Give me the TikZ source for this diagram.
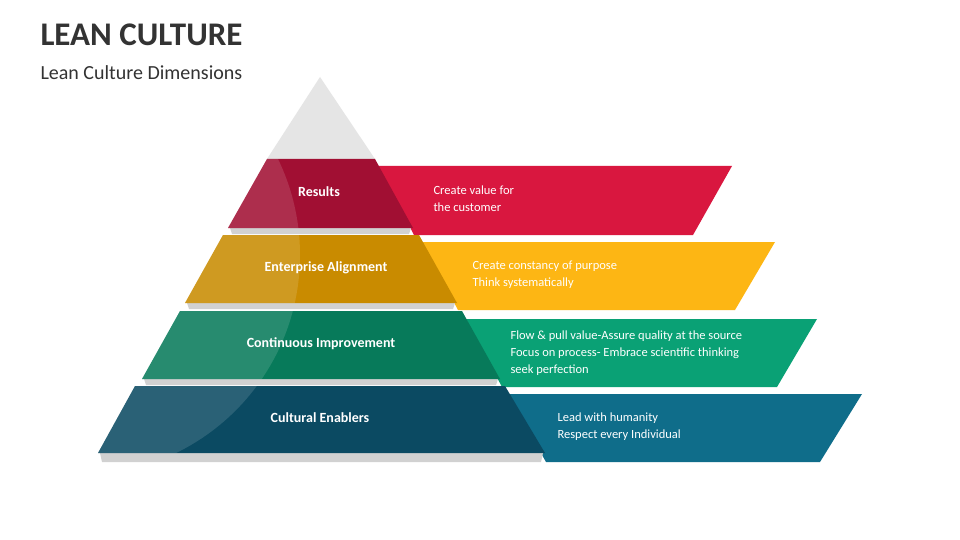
\documentclass[tikz,border=0pt]{standalone}
\usepackage{fontspec}
\setmainfont{Carlito}
\begin{document}
\begin{tikzpicture}[x=1pt,y=-1pt,
  band/.style={draw=none},
  lbl/.style={text=white,font=\fontsize{14}{16}\selectfont\bfseries},
  desc/.style={text=white,font=\fontsize{12.5}{17}\selectfont,align=left,anchor=west},
  shadowstrip/.style={fill=black!18}]
\definecolor{rA}{HTML}{A10F33}\definecolor{rB}{HTML}{D9173F}
\definecolor{yA}{HTML}{C98B00}\definecolor{yB}{HTML}{FDB614}
\definecolor{gA}{HTML}{077A5A}\definecolor{gB}{HTML}{0AA175}
\definecolor{bA}{HTML}{0B4A62}\definecolor{bB}{HTML}{0F6D8A}
\definecolor{tgray}{HTML}{333333}
\useasboundingbox (0,0) rectangle (960,540);
\fill[white] (0,0) rectangle (960,540);
\node[anchor=west,text=tgray,font=\fontsize{33}{36}\selectfont\bfseries] (title) at (37,35) {LEAN CULTURE};
\node[anchor=west,text=tgray,font=\fontsize{20}{24}\selectfont] (sub) at (37,73) {Lean Culture Dimensions};
% gray triangle top
\fill[black!10] (320,77) -- (375,159) -- (267,159) -- cycle;
% parallelograms
\fill[rB] (378,166) -- (732,166) -- (693,235) -- (414,235) -- cycle;
\fill[yB] (422,242) -- (775,242) -- (735,310) -- (458,310) -- cycle;
\fill[gB] (466,319) -- (817,319) -- (777,387) -- (502,387) -- cycle;
\fill[bB] (508,394) -- (862,394) -- (820,462) -- (546,462) -- cycle;
% shadow strips
\fill[shadowstrip] (230,228) -- (411,228) -- (409,234) -- (232,234) -- cycle;
\fill[shadowstrip] (187,303) -- (455,303) -- (453,309) -- (189,309) -- cycle;
\fill[shadowstrip] (144,379) -- (498,379) -- (496,385) -- (146,385) -- cycle;
\fill[shadowstrip] (100,453) -- (543,453) -- (541,462) -- (102,462) -- cycle;
% bands
\fill[rA] (267,159) -- (375,159) -- (413,228) -- (228,228) -- cycle;
\fill[yA] (223,235) -- (419,235) -- (457,303) -- (185,303) -- cycle;
\fill[gA] (180,311) -- (462,311) -- (500,379) -- (142,379) -- cycle;
\fill[bA] (135,386) -- (505,386) -- (545,453) -- (98,453) -- cycle;
% translucent circle overlay
\begin{scope}
\clip (267,159) -- (375,159) -- (413,228) -- (228,228) -- cycle
      (223,235) -- (419,235) -- (457,303) -- (185,303) -- cycle
      (180,311) -- (462,311) -- (500,379) -- (142,379) -- cycle
      (135,386) -- (505,386) -- (545,453) -- (98,453) -- cycle;
\fill[white,opacity=0.13] (80,255) circle (220);
\end{scope}
% labels
\node[lbl] (l1) at (319,192) {Results};
\node[lbl] (l2) at (326,268) {Enterprise Alignment};
\node[lbl] (l3) at (321,344) {Continuous Improvement};
\node[lbl] (l4) at (320,418) {Cultural Enablers};
\node[desc] (d1) at (430,198.5) {Create value for\\the customer};
\node[desc] (d2) at (469,274.5) {Create constancy of purpose\\Think systematically};
\node[desc] (d3) at (507,353) {Flow \& pull value-Assure quality at the source\\Focus on process- Embrace scientific thinking\\seek perfection};
\node[desc] (d4) at (554,426.5) {Lead with humanity\\Respect every Individual};
\end{tikzpicture}
\end{document}
